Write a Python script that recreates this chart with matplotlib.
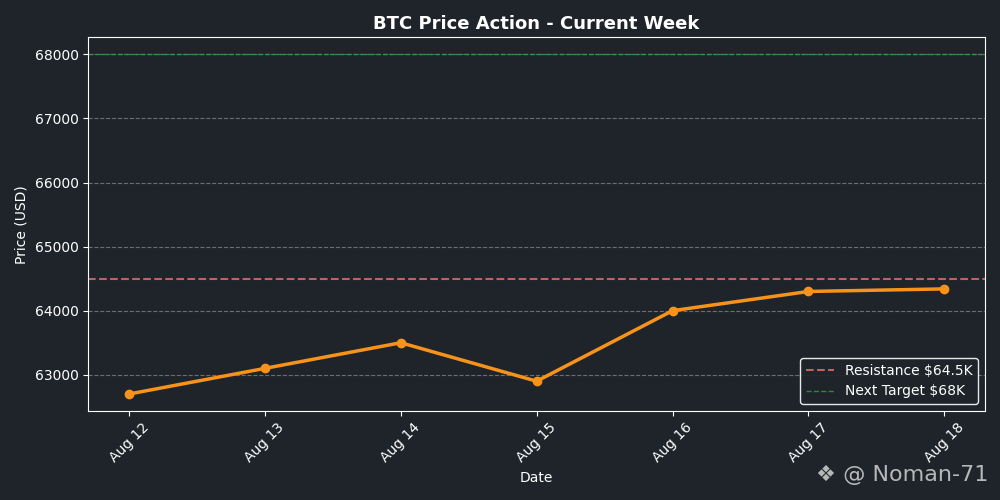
import matplotlib.pyplot as plt

# data
dates = ['Aug 12', 'Aug 13', 'Aug 14', 'Aug 15', 'Aug 16', 'Aug 17', 'Aug 18']
prices = [62700, 63100, 63500, 62900, 64000, 64300, 64340]
resistance = 64500
target = 68000

BG = '#1e2429'

fig, ax = plt.subplots(figsize=(10, 5), dpi=100)
fig.patch.set_facecolor(BG)
ax.set_facecolor(BG)

x = range(len(dates))
ax.plot(x, prices, color='#f7931a', linewidth=2.5, marker='o', markersize=6)
ax.axhline(resistance, color='#e57373', linestyle='--', linewidth=1.5, alpha=0.8,
           label='Resistance $64.5K')
ax.axhline(target, color='#2ea043', linestyle='--', linewidth=1.0, alpha=0.8,
           label='Next Target $68K')

ax.grid(axis='y', linestyle='--', color='#8a8f94', alpha=0.7, linewidth=0.8)
ax.set_xticks(list(x))
ax.set_xticklabels(dates, rotation=45)

ax.set_title('BTC Price Action - Current Week', color='white', fontsize=13, fontweight='bold')
ax.set_xlabel('Date', color='white')
ax.set_ylabel('Price (USD)', color='white')
ax.tick_params(colors='white')
for sp in ax.spines.values():
    sp.set_color('white')

leg = ax.legend(loc='lower right', facecolor=BG, edgecolor='white', labelcolor='white',
                framealpha=0.9)

fig.text(0.988, 0.03, '\u2756 @ Noman-71', color='#c8c8c8', fontsize=16, ha='right',
         va='bottom', alpha=0.9)

plt.tight_layout()
plt.savefig('out.png', facecolor=BG)
